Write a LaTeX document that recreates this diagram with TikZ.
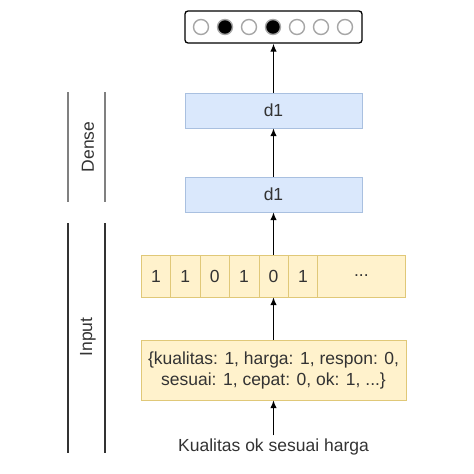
\documentclass[tikz,border=0pt]{standalone}
\usepackage{fontspec}
\setmainfont{Liberation Sans}
\usepackage{xcolor}
\usetikzlibrary{arrows.meta}

\definecolor{denseFill}{HTML}{DAE8FC}
\definecolor{denseLine}{HTML}{A9C0E0}
\definecolor{inputFill}{HTML}{FFF2CC}
\definecolor{inputLine}{HTML}{E0C878}
\definecolor{textGray}{HTML}{333333}

\tikzset{
  densebox/.style={draw=denseLine,fill=denseFill,minimum width=177pt,minimum height=35pt,inner sep=0pt,text=textGray},
  cellbox/.style={draw=inputLine,fill=inputFill,minimum height=42pt,inner sep=0pt,text=textGray},
  dictbox/.style={draw=inputLine,fill=inputFill,minimum width=265pt,minimum height=60pt,inner sep=0pt,align=center,text=textGray},
  flow/.style={line width=1.3pt,-{Latex[length=8pt,width=6.5pt]}},
  sidebar/.style={line width=1.4pt},
  unit/.style={circle,draw=gray!70,line width=1.4pt,minimum size=15pt,inner sep=0pt}
}

\begin{document}
\begin{tikzpicture}[x=1pt,y=-1pt,font=\fontsize{17.5}{21}\selectfont]
  \useasboundingbox (0,0) rectangle (474,474);
  \pgfmathsetmacro{\colX}{273.5}
  \pgfmathsetmacro{\cellWidth}{29.4}
  \pgfmathsetmacro{\cellStart}{\colX-4.5*\cellWidth}

  % Ausgabe
  \node[draw,rounded corners=3pt,line width=1.3pt,fill=white,minimum width=177pt,minimum height=32pt] (out) at (\colX,27) {};
  \foreach \i/\f in {1/white,2/black,3/white,4/black,5/white,6/white,7/white}
    \node[unit,fill=\f] (u\i) at (177+24*\i,27) {};

  % Dense
  \node[densebox] (d1a) at (\colX,110.5) {d1};
  \node[densebox] (d1b) at (\colX,194.5) {d1};

  % Vektor
  \foreach \i/\v in {1/1,2/1,3/0,4/1,5/0,6/1}
    \node[cellbox,minimum width=\cellWidth pt] (c\i) at (\cellStart+\cellWidth*\i-\cellWidth/2,276) {\v};
  \node[cellbox,minimum width=87.6pt] (c7) at (\cellStart+6*\cellWidth+43.8,276) {...};

  % Kamus
  \node[dictbox] (dict) at (\colX,370) {\{kualitas: 1, harga: 1, respon: 0,\\sesuai: 1, cepat: 0, ok: 1, ...\}};

  % Kalimat
  \node[text=textGray] (sent) at (\colX,447) {Kualitas ok sesuai harga};

  % Pfeile
  \draw[flow] (sent) -- (dict);
  \draw[flow] (dict) -- (c5);
  \draw[flow] (c5) -- (d1b);
  \draw[flow] (d1b) -- (d1a);
  \draw[flow] (d1a) -- (out);

  % Seitenleisten
  \draw[sidebar,gray] (68,92) -- (68,202);
  \draw[sidebar,gray] (105,92) -- (105,202);
  \node[rotate=90,text=textGray] (dense) at (88,147) {Dense};
  \draw[sidebar,black!80] (68,223) -- (68,453);
  \draw[sidebar,black!80] (105,223) -- (105,453);
  \node[rotate=90,text=textGray] (input) at (88,337) {Input};
\end{tikzpicture}
\end{document}
